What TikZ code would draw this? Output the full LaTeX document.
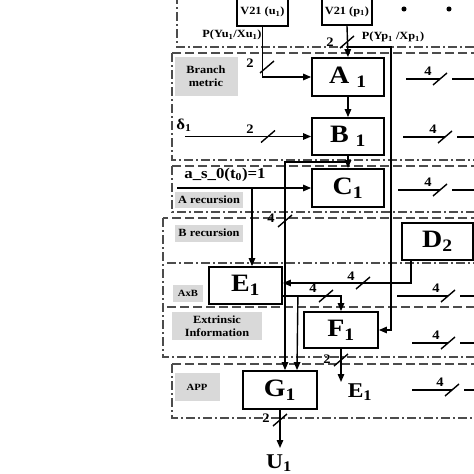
\documentclass[tikz,border=0pt]{standalone}
\usepackage{fontspec}
\setmainfont{Liberation Serif}[FakeStretch=1.12]
\usetikzlibrary{arrows.meta,calc}

\begin{document}
\begin{tikzpicture}[x=1pt,y=-1pt,
  line width=1.4pt,
  blk/.style={draw, line width=1.8pt, inner sep=0pt, font=\bfseries\fontsize{25}{25}\selectfont},
  src/.style={draw, line width=1.8pt, inner sep=0pt, font=\bfseries\fontsize{11}{12}\selectfont},
  tag/.style={fill=gray!30, inner sep=0pt, align=center, font=\bfseries\fontsize{11}{12.5}\selectfont},
  small/.style={inner sep=0pt, font=\bfseries\fontsize{11}{12}\selectfont},
  txt/.style={inner sep=0pt, font=\bfseries\fontsize{15}{16}\selectfont},
  endlbl/.style={inner sep=0pt, font=\bfseries\fontsize{21}{22}\selectfont},
  buslbl/.style={inner sep=0pt, font=\bfseries\fontsize{13}{14}\selectfont},
  arrow/.style={-{Triangle[length=8pt,width=6.5pt]}},
  frame/.style={line width=1.1pt, gray!60!black, dash pattern=on 9pt off 3pt on 2pt off 3pt},
  sepline/.style={line width=1.1pt, gray!60!black, dash pattern=on 9pt off 4pt},
  pics/bus/.style 2 args={code={
    \draw[line width=1.4pt] (-7,6) -- (7,-6);
    \node[buslbl] at (#2) {#1};}}
]
\useasboundingbox (0,0) rectangle (474,474);
\clip (0,0) rectangle (474,474);

% REGIONS
\draw[frame] (177,-5) -- (177,47) -- (480,47);
\draw[sepline] (480,53) -- (172,53);
\draw[frame] (172,53) -- (172,160) -- (480,160);
\draw[sepline] (480,166) -- (172,166);
\draw[frame] (172,166) -- (172,212) -- (480,212);
\draw[sepline] (480,218) -- (163,218);
\draw[frame] (163,218) -- (163,357) -- (480,357);
\draw[frame] (167,263) -- (480,263);
\draw[sepline] (167,307) -- (480,307);
\draw[sepline] (480,364) -- (172,364);
\draw[frame] (172,364) -- (172,418) -- (480,418);

% TAGS
\node[tag, minimum width=63pt, minimum height=39pt] (tbm) at (206,76) {Branch\\metric};
\node[tag, minimum width=68pt, minimum height=16pt] (tar) at (209,200) {A recursion};
\node[tag, minimum width=68pt, minimum height=17pt] (tbr) at (209,233) {B recursion};
\node[tag, minimum width=30pt, minimum height=17pt, font=\bfseries\fontsize{9.5}{10}\selectfont] (taxb) at (188,293) {AxB};
\node[tag, minimum width=90pt, minimum height=28pt] (tei) at (217,326) {Extrinsic\\Information};
\node[tag, minimum width=45pt, minimum height=28pt, font=\bfseries\fontsize{9.5}{10}\selectfont] (tapp) at (197,387) {APP};

% SOURCES
\node[src, minimum width=51pt, minimum height=28pt] (V21u) at (262.5,12) {V21 (u\textsubscript{1})};
\node[src, minimum width=50pt, minimum height=27pt] (V21p) at (347,11.5) {V21 (p\textsubscript{1})};
\node[circle, fill, inner sep=1.8pt] (dot1) at (404,9) {};
\node[circle, fill, inner sep=1.8pt] (dot2) at (449,9) {};
\node[small] (pu) at (232,35) {P(Yu\textsubscript{1}/Xu\textsubscript{1})};
\node[small] (pp) at (393,37) {P(Yp\textsubscript{1} /Xp\textsubscript{1})};

% BLOCKS
\node[blk, minimum width=72pt, minimum height=38pt] (A1) at (348,77) {A \textsubscript{1}};
\node[blk, minimum width=72pt, minimum height=37pt] (B1) at (348,136.5) {B \textsubscript{1}};
\node[blk, minimum width=72pt, minimum height=38pt] (C1) at (348,188) {C\textsubscript{1}};
\node[blk, minimum width=71pt, minimum height=37pt] (D2) at (437.5,241.5) {D\textsubscript{2}};
\node[blk, minimum width=73pt, minimum height=37pt] (E1) at (245.5,285.5) {E\textsubscript{1}};
\node[blk, minimum width=74pt, minimum height=36pt] (F1) at (341,330) {F\textsubscript{1}};
\node[blk, minimum width=74pt, minimum height=38pt] (G1) at (280,390) {G\textsubscript{1}};

% INPUTS / OUTPUTS
\node[txt] (delta) at (184,125) {δ\textsubscript{1}};
\node[txt] (as0) at (225,175) {a\_s\_0(t\textsubscript{0})=1};
\node[endlbl] (e1out) at (360,392) {E\textsubscript{1}};
\node[endlbl] (u1out) at (279,463) {U\textsubscript{1}};
\coordinate (din) at (185,136.5);
\coordinate (ain) at (177,188);
\coordinate (pbr) at (347,47);
\coordinate (bbr) at (348,162);
\coordinate (abr) at (252,188);
\coordinate (eout) at ($(E1.east)+(0,10.5)$);
\coordinate (fend) at (341,382);
\coordinate (gend) at (280,448);

% CONNECTORS
\draw[arrow] (V21u.south) |- (A1.west);
\pic at (267,67) {bus={2}{-17,-4}};
\draw[arrow] (V21p.south) -- (A1.north);
\pic at (347,42) {bus={2}{-17,0}};
\draw[arrow] (pbr) -| ($(F1.east)+(12,0)$) -- (F1.east);
\draw[arrow] (A1) -- (B1);
\draw[arrow] (din) -- (B1.west);
\pic at (268,136.5) {bus={2}{-18,-7}};
\draw[arrow] (B1) -- (C1);
\draw[arrow] (bbr) -| ($(G1.north)+(5,0)$);
\pic at (285,221) {bus={4}{-14,-3}};
\draw[arrow] (ain) -- (C1.west);
\draw[arrow] (abr) -- (abr |- E1.north);
\draw[arrow] ($(D2.south west)+(10,0)$) |- ($(E1.east)+(0,-2.5)$);
\pic at (363,283) {bus={4}{-12,-7}};
\draw[arrow] (eout) -| (F1.north);
\pic at (326,296) {bus={4}{-13,-8}};
\draw[arrow] ($(eout)+(15,0)$) -- ($(G1.north)+(17,0)$);
\draw[arrow] (F1.south) -- (fend);
\pic at (341,360) {bus={2}{-14,-1}};
\draw[arrow] (G1.south) -- (gend);
\pic at (280,420) {bus={2}{-14,-2}};

% PARALLEL BUSES
\foreach \y/\xs/\xm in {79/406/440, 137/403/445, 190/398/440, 296/397/448, 343/412/448, 390/412/452}{
  \draw (\xs,\y) -- (\xm,\y) (\xm+12,\y) -- (480,\y);
  \pic at (\xm,\y) {bus={4}{-12,-8}};
}
\end{tikzpicture}
\end{document}
